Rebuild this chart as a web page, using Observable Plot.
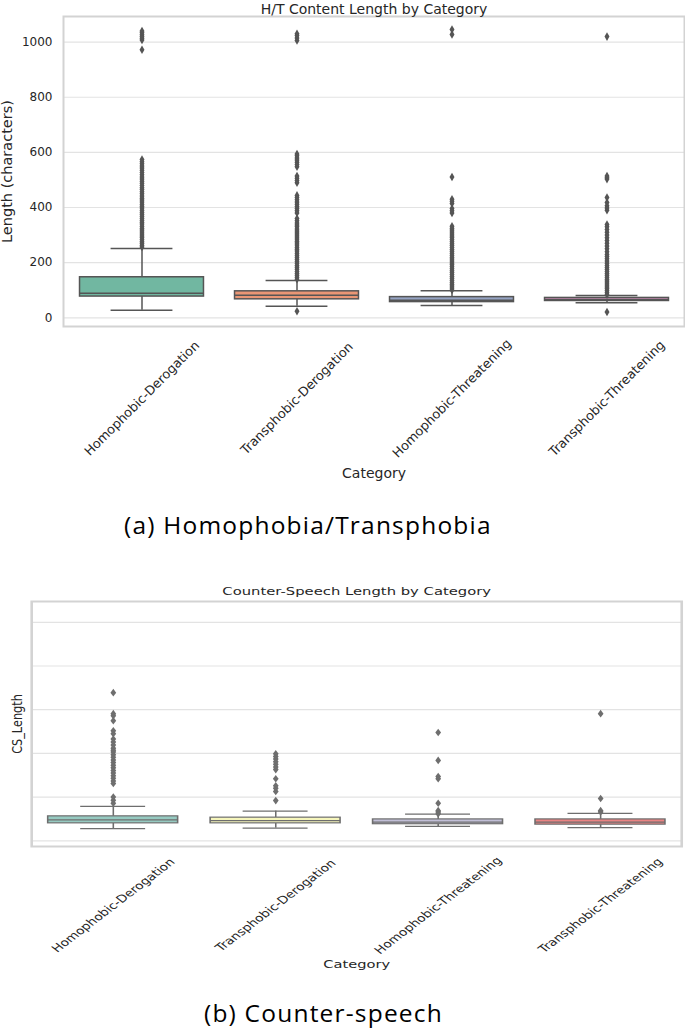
<!DOCTYPE html>
<html><head><meta charset="utf-8">
<script src="https://cdn.jsdelivr.net/npm/d3@7"></script>
<script src="https://cdn.jsdelivr.net/npm/@observablehq/plot@0.6"></script>
<style>
body{margin:0;background:#fff;}
#page{position:relative;width:685px;height:1029px;overflow:hidden;background:#fff;font-family:"DejaVu Sans";}
#a{position:absolute;left:0;top:0;}
#b{position:absolute;left:0;top:575px;width:523px;transform:scaleX(1.31);transform-origin:0 0;}
.cap{position:absolute;font-family:"Open Sans";font-size:24.5px;letter-spacing:1.2px;line-height:1;color:#000;white-space:nowrap;}
</style></head><body>
<div id="page"><div id="a"></div><div id="b"></div>
<div class="cap" style="left:124px;top:513px">(a) Homophobia/Transphobia</div>
<div class="cap" style="left:204px;top:1001px">(b) Counter-speech</div>
</div>
<script>
const categories = ["Homophobic-Derogation", "Transphobic-Derogation", "Homophobic-Threatening", "Transphobic-Threatening"];

// (a) H/T content length
const htLow = [27, 42, 45, 55];
const htQ1 = [77, 67, 57, 61];
const htMedian = [89, 82, 64, 66];
const htQ3 = [147, 96, 75, 72];
const htHigh = [251, 135, 98, 81];
const htColors = ["#71b7a1", "#e99675", "#95a3c3", "#db96c1"];
const htTicks = [0, 200, 400, 600, 800, 1000];
const htOutliers = [
  [257, 263, 270, 276, 283, 290, 297, 304, 311, 318, 325, 332, 340, 347, 354, 361, 368, 376, 383, 390, 398, 405, 412, 420, 427, 434, 442, 450, 457, 465, 472, 480, 488, 495, 503, 511, 519, 527, 535, 543, 551, 559, 566, 574, 972, 1008, 1014, 1020, 1027, 1034, 1040],
  [24, 140, 147, 154, 161, 168, 176, 183, 190, 198, 205, 212, 220, 227, 234, 242, 249, 256, 264, 271, 278, 286, 293, 300, 308, 315, 322, 330, 337, 344, 352, 360, 380, 388, 396, 404, 412, 420, 428, 436, 444, 490, 498, 506, 514, 548, 556, 564, 572, 580, 588, 594, 1006, 1015, 1024, 1030],
  [101, 108, 115, 122, 129, 136, 143, 150, 157, 164, 171, 178, 185, 192, 199, 206, 213, 220, 227, 234, 241, 248, 255, 262, 269, 276, 283, 290, 297, 304, 311, 318, 325, 332, 380, 388, 396, 415, 423, 430, 511, 1028, 1046],
  [21, 84, 91, 98, 105, 112, 119, 126, 133, 140, 147, 154, 161, 168, 175, 182, 190, 198, 206, 214, 222, 230, 240, 250, 260, 270, 280, 290, 300, 310, 320, 330, 338, 390, 398, 406, 418, 436, 503, 508, 514, 1020]
];

// (b) Counter-speech length
const csLow = [28, 29, 33, 30];
const csQ1 = [40, 40, 38, 37];
const csMedian = [48, 46, 43, 43];
const csQ3 = [56, 53, 49, 49];
const csHigh = [79, 68, 61, 63];
const csColors = ["#96cac1", "#f6f6bc", "#c1bed6", "#ea8383"];
const csGrid = [0, 100, 200, 300, 400, 500];
const csOutliers = [
  [339, 291, 286, 275, 252, 245, 233, 226, 219, 212, 207, 203, 197, 191, 185, 179, 173, 167, 161, 155, 149, 143, 137, 131, 100, 93, 86],
  [199, 193, 187, 181, 175, 169, 163, 142, 126, 120, 113, 92],
  [248, 184, 147, 142, 86, 69, 66, 62],
  [291, 97, 69, 66]
];

function boxChart(c) {
  const boxes = categories.map((cat, i) => ({cat, low: c.low[i], q1: c.q1[i], med: c.med[i], q3: c.q3[i], high: c.high[i], color: c.colors[i]}));
  const outs = categories.flatMap((cat, i) => c.outliers[i].map(v => ({cat, v})));
  const band = (c.width - c.marginLeft - c.marginRight) / categories.length;
  const bi = band * 0.1, ci = band * 0.3;
  const line = {stroke: c.edge, strokeWidth: c.lw};
  return Plot.plot({
    width: c.width, height: c.height,
    marginLeft: c.marginLeft, marginRight: c.marginRight, marginTop: c.marginTop, marginBottom: c.marginBottom,
    x: {type: "band", domain: categories, padding: 0, axis: null},
    y: {domain: c.yDomain, axis: null},
    color: {type: "identity"},
    style: {fontFamily: "DejaVu Sans", background: "white"},
    marks: [
      Plot.ruleY(c.grid, {stroke: "#e3e3e3", strokeWidth: 1.2}),
      Plot.frame({stroke: "#d3d3d3", strokeWidth: 2}),
      Plot.ruleX(boxes, {x: "cat", y1: "low", y2: "q1", ...line}),
      Plot.ruleX(boxes, {x: "cat", y1: "q3", y2: "high", ...line}),
      Plot.tickY(boxes, {x: "cat", y: "low", insetLeft: ci, insetRight: ci, ...line}),
      Plot.tickY(boxes, {x: "cat", y: "high", insetLeft: ci, insetRight: ci, ...line}),
      Plot.barY(boxes, {x: "cat", y1: "q1", y2: "q3", fill: "color", insetLeft: bi, insetRight: bi, ...line}),
      Plot.tickY(boxes, {x: "cat", y: "med", insetLeft: bi, insetRight: bi, ...line}),
      Plot.dot(outs, {x: "cat", y: "v", symbol: "diamond", r: c.r, fill: c.edge}),
      ...c.texts
    ]
  });
}

const ink = "#262626";
const chartA = boxChart({
  width: 685, height: 490, marginLeft: 63, marginRight: 1, marginTop: 16, marginBottom: 164,
  yDomain: [-31.6, 1092.9], grid: htTicks,
  low: htLow, q1: htQ1, med: htMedian, q3: htQ3, high: htHigh, colors: htColors, outliers: htOutliers,
  edge: "#555555", lw: 1.5, r: 2.6,
  texts: [
    Plot.text(htTicks, {y: d => d, text: d => String(d), frameAnchor: "left", dx: -11, textAnchor: "end", lineAnchor: "middle", fontSize: 12, fill: ink}),
    Plot.text(categories, {x: d => d, text: d => d, frameAnchor: "bottom", dy: 72, rotate: -45, textAnchor: "middle", lineAnchor: "middle", fontSize: 12.8, fill: ink}),
    Plot.text(["Length (characters)"], {text: d => d, frameAnchor: "left", dx: -56, rotate: -90, textAnchor: "middle", lineAnchor: "middle", fontSize: 14.5, fill: ink}),
    Plot.text(["Category"], {text: d => d, frameAnchor: "bottom", dy: 147, textAnchor: "middle", lineAnchor: "middle", fontSize: 14, fill: ink}),
    Plot.text(["H/T Content Length by Category"], {text: d => d, frameAnchor: "top", dy: -3, textAnchor: "middle", lineAnchor: "bottom", fontSize: 14, fill: ink})
  ]
});
document.getElementById("a").appendChild(chartA);

const chartB = boxChart({
  width: 523, height: 410, marginLeft: 23.7, marginRight: 3.1, marginTop: 26, marginBottom: 139,
  yDomain: [-13.0, 547.6], grid: csGrid,
  low: csLow, q1: csQ1, med: csMedian, q3: csQ3, high: csHigh, colors: csColors, outliers: csOutliers,
  edge: "#6e6e6e", lw: 1.2, r: 2.3,
  texts: [
    Plot.text(categories, {x: d => d, text: d => d, frameAnchor: "bottom", dy: 59, rotate: -45, textAnchor: "middle", lineAnchor: "middle", fontSize: 10.5, fill: ink}),
    Plot.text(["CS_Length"], {text: d => d, frameAnchor: "left", dx: -11, rotate: -90, textAnchor: "middle", lineAnchor: "middle", fontSize: 11.3, fill: ink}),
    Plot.text(["Category"], {text: d => d, frameAnchor: "bottom", dy: 118, textAnchor: "middle", lineAnchor: "middle", fontSize: 11.2, fill: ink}),
    Plot.text(["Counter-Speech Length by Category"], {text: d => d, frameAnchor: "top", dy: -6.3, textAnchor: "middle", lineAnchor: "bottom", fontSize: 11.3, fill: ink})
  ]
});
document.getElementById("b").appendChild(chartB);
</script>
</body></html>
